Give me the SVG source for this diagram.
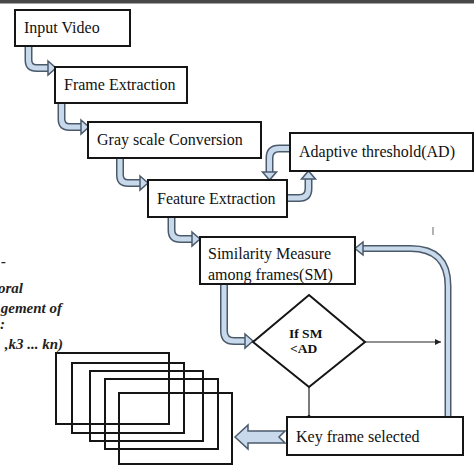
<svg xmlns="http://www.w3.org/2000/svg" width="474" height="474" viewBox="0 0 474 474">
<defs>
<style>
.box{fill:#fff;stroke:#151515;stroke-width:2}
.t{font-family:"Liberation Serif","Times New Roman",serif;font-size:16px;fill:#111}
.tb{font-family:"Liberation Serif","Times New Roman",serif;font-size:13.5px;font-weight:bold;fill:#111}
.ti{font-family:"Liberation Serif","Times New Roman",serif;font-size:15px;font-weight:bold;font-style:italic;fill:#222}
.po{fill:none;stroke:#4b5a6b;stroke-width:8}
.pi{fill:none;stroke:#c8d9ec;stroke-width:5}
.fo{fill:none;stroke:#4b5a6b;stroke-width:7}
.fi{fill:none;stroke:#c8d9ec;stroke-width:4}
.hd{fill:#c8d9ec;stroke:#4b5a6b;stroke-width:1.5;stroke-linejoin:miter}
.fr{fill:none;stroke:#151515;stroke-width:2}
.ln{stroke:#222;stroke-width:1.2;fill:none}
</style>
<marker id="ah" markerWidth="8" markerHeight="8" refX="6" refY="3" orient="auto" markerUnits="userSpaceOnUse">
<path d="M0,0 L6,3 L0,6 Z" fill="#222"/>
</marker>
<marker id="dot" markerWidth="4" markerHeight="4" refX="2" refY="2" markerUnits="userSpaceOnUse">
<circle cx="2" cy="2" r="1.6" fill="#222"/>
</marker>
</defs>
<rect x="0" y="0" width="474" height="3.5" fill="#484848"/>
<g id="connectors">
<path class="po" d="M28.5,46 V60 Q28.5,68 36.5,68 H49"/>
<path class="pi" d="M28.5,46 V60 Q28.5,68 36.5,68 H49"/>
<polygon class="hd" points="48,61 56,68 48,75"/>
<path class="po" d="M61.5,103 V119 Q61.5,127 69.5,127 H82"/>
<path class="pi" d="M61.5,103 V119 Q61.5,127 69.5,127 H82"/>
<polygon class="hd" points="81,120 89,127 81,134"/>
<path class="po" d="M120,158 V175 Q120,183 128,183 H141"/>
<path class="pi" d="M120,158 V175 Q120,183 128,183 H141"/>
<polygon class="hd" points="140,176 148,183 140,190"/>
<path class="po" d="M171.5,217 V230 Q171.5,239 180.5,239 H193"/>
<path class="pi" d="M171.5,217 V230 Q171.5,239 180.5,239 H193"/>
<polygon class="hd" points="192,232 200,239 192,246"/>
<path class="po" d="M224,284 V331 Q224,341 234,341 H246"/>
<path class="pi" d="M224,284 V331 Q224,341 234,341 H246"/>
<polygon class="hd" points="245,334 253,341 245,348"/>
<path class="po" d="M290,148.5 H279 Q269.5,148.5 269.5,158 V173"/>
<path class="pi" d="M290,148.5 H279 Q269.5,148.5 269.5,158 V173"/>
<polygon class="hd" points="262.5,172 269.5,180 276.5,172"/>
<path class="po" d="M287,198 H299 Q308.5,198 308.5,188.5 V178"/>
<path class="pi" d="M287,198 H299 Q308.5,198 308.5,188.5 V178"/>
<polygon class="hd" points="301.5,179 308.5,171 315.5,179"/>
<path class="fo" d="M448,418 V286 Q448,248.5 410.5,248.5 H362"/>
<path class="fi" d="M448,418 V286 Q448,248.5 410.5,248.5 H362"/>
<polygon class="hd" points="363,242 355,248.5 363,255"/>
<line class="ln" x1="365" y1="342" x2="441" y2="342" marker-end="url(#ah)"/>
<line class="ln" x1="309" y1="387" x2="309" y2="416.5" marker-end="url(#dot)"/>
<polygon class="hd" points="235,437 248,425 248,431 285,431 279,437 285,443 248,443 248,449"/>
</g>
<g id="frames">
<rect class="fr" x="56" y="353" width="113" height="71"/>
<rect class="fr" x="72" y="363" width="112" height="70"/>
<rect class="fr" x="90" y="371" width="113" height="70"/>
<rect class="fr" x="105" y="379" width="113" height="70"/>
<rect class="fr" x="119" y="393" width="113" height="71"/>
</g>
<g id="left-text">
<text class="ti" x="6" y="266" text-anchor="end">-</text>
<text class="ti" x="23" y="293" text-anchor="end">oral</text>
<text class="ti" x="62" y="313" text-anchor="end">gement of</text>
<text class="ti" x="5" y="329" text-anchor="end">:</text>
<text class="ti" x="63" y="349" text-anchor="end">,k3 ... kn)</text>
</g>
<line x1="433" y1="227" x2="433" y2="235" stroke="#666" stroke-width="1"/>
<g id="input-video">
<rect class="box" x="15" y="10" width="115" height="36"/>
<text class="t" x="24" y="33">Input Video</text>
</g>
<g id="frame-extraction">
<rect class="box" x="55" y="67" width="132" height="36"/>
<text class="t" x="64" y="90">Frame Extraction</text>
</g>
<g id="gray-scale">
<rect class="box" x="88" y="122" width="173" height="36"/>
<text class="t" x="97" y="145">Gray scale Conversion</text>
</g>
<g id="feature-extraction">
<rect class="box" x="148" y="180" width="139" height="37"/>
<text class="t" x="157" y="204">Feature Extraction</text>
</g>
<g id="adaptive-threshold">
<rect class="box" x="290" y="133" width="183" height="38"/>
<text class="t" x="299" y="157">Adaptive threshold(AD)</text>
</g>
<g id="similarity">
<rect class="box" x="200" y="237" width="155" height="47"/>
<text class="t" x="208" y="259">Similarity Measure</text>
<text class="t" x="208" y="280">among frames(SM)</text>
</g>
<g id="decision">
<polygon class="box" points="309,295 365,342 309,387 253,342"/>
<text class="tb" x="289" y="338">If SM</text>
<text class="tb" x="290" y="353">&lt;AD</text>
</g>
<g id="key-frame">
<rect class="box" x="287" y="417" width="176" height="38"/>
<text class="t" x="296" y="442">Key frame selected</text>
</g>
</svg>
